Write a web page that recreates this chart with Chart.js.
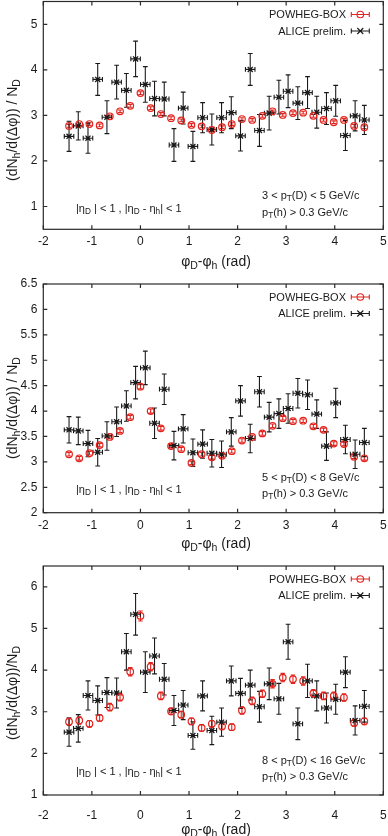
<!DOCTYPE html>
<html>
<head>
<meta charset="utf-8">
<script src="https://cdn.jsdelivr.net/npm/chart.js@4.4.1/dist/chart.umd.min.js"></script>
<style>
  html, body { margin: 0; padding: 0; background: #fff; }
  #page { position: relative; width: 388px; height: 836px; overflow: hidden;
          font-family: "Liberation Sans", Arial, sans-serif; color: #1a1a1a; }
  canvas { position: absolute; left: 0; }
  .txt { position: absolute; white-space: nowrap; line-height: 1; font-size: 11px; transform: translateY(-50%); }
  .leg { text-align: right; }
  .xt { font-size: 14px; transform: translate(-50%, -50%); }
  .yt { font-size: 14px; transform: translate(-50%, -50%) rotate(-90deg); }
  sub { font-size: 75%; vertical-align: -0.3em; line-height: 0; }
</style>
</head>
<body>
<div id="page">
  <canvas id="c1" width="388" height="278" style="top:0"></canvas>
  <canvas id="c2" width="388" height="278" style="top:278px"></canvas>
  <canvas id="c3" width="388" height="280" style="top:556px"></canvas>

  <!-- panel 1 -->
  <div class="txt leg" style="right:42px;top:14px">POWHEG-BOX</div>
  <div class="txt leg" style="right:42px;top:31px">ALICE prelim.</div>
  <div class="txt" style="left:76px;top:208px">|η<sub>D</sub> | &lt; 1 , |η<sub>D</sub> - η<sub>h</sub>| &lt; 1</div>
  <div class="txt" style="left:262px;top:195px">3 &lt; p<sub>T</sub>(D) &lt; 5 GeV/c</div>
  <div class="txt" style="left:262px;top:212px">p<sub>T</sub>(h) &gt; 0.3 GeV/c</div>
  <div class="txt xt" style="left:216px;top:261px">φ<sub>D</sub>-φ<sub>h</sub> (rad)</div>
  <div class="txt yt" style="left:12px;top:130px">(dN<sub>h</sub>/d(Δφ)) / N<sub>D</sub></div>

  <!-- panel 2 -->
  <div class="txt leg" style="right:42px;top:297px">POWHEG-BOX</div>
  <div class="txt leg" style="right:42px;top:313px">ALICE prelim.</div>
  <div class="txt" style="left:76px;top:489px">|η<sub>D</sub> | &lt; 1 , |η<sub>D</sub> - η<sub>h</sub>| &lt; 1</div>
  <div class="txt" style="left:262px;top:477px">5 &lt; p<sub>T</sub>(D) &lt; 8 GeV/c</div>
  <div class="txt" style="left:262px;top:493px">p<sub>T</sub>(h) &gt; 0.3 GeV/c</div>
  <div class="txt xt" style="left:216px;top:543px">φ<sub>D</sub>-φ<sub>h</sub> (rad)</div>
  <div class="txt yt" style="left:12px;top:408px">(dN<sub>h</sub>/d(Δφ)) / N<sub>D</sub></div>

  <!-- panel 3 -->
  <div class="txt leg" style="right:42px;top:579px">POWHEG-BOX</div>
  <div class="txt leg" style="right:42px;top:595px">ALICE prelim.</div>
  <div class="txt" style="left:76px;top:771px">|η<sub>D</sub> | &lt; 1 , |η<sub>D</sub> - η<sub>h</sub>| &lt; 1</div>
  <div class="txt" style="left:262px;top:760px">8 &lt; p<sub>T</sub>(D) &lt; 16 GeV/c</div>
  <div class="txt" style="left:262px;top:776px">p<sub>T</sub>(h) &gt; 0.3 GeV/c</div>
  <div class="txt xt" style="left:216px;top:829px">φ<sub>D</sub>-φ<sub>h</sub> (rad)</div>
  <div class="txt yt" style="left:12px;top:693px">(dN<sub>h</sub>/d(Δφ))/N<sub>D</sub></div>
</div>

<script>
  // ---- data ----
  // bin centres, rad
  const aliceX = [-1.47, -1.28, -1.08, -0.88, -0.69, -0.49, -0.29, -0.10, 0.10, 0.29, 0.49, 0.69, 0.88, 1.08, 1.28, 1.47,
                  1.67, 1.87, 2.06, 2.26, 2.45, 2.65, 2.85, 3.04, 3.24, 3.44, 3.63, 3.83, 4.02, 4.22, 4.42, 4.61];
  const aliceHalfBin = 0.098;
  const powhegX = [-1.47, -1.26, -1.05, -0.84, -0.63, -0.42, -0.21, 0.00, 0.21, 0.42, 0.63, 0.84, 1.05, 1.26, 1.47,
                   1.68, 1.88, 2.09, 2.30, 2.51, 2.72, 2.93, 3.14, 3.35, 3.56, 3.77, 3.98, 4.19, 4.40, 4.61];

  const xTicks = [-2, -1, 0, 1, 2, 3, 4, 5];

  // panel 1: 3 < pT(D) < 5 GeV/c
  const alice1 = [2.54, 2.77, 2.50, 3.79, 2.96, 3.73, 3.55, 4.24, 3.68, 3.37, 3.36, 2.35, 3.16, 2.32, 2.95, 2.69,
                  2.95, 3.06, 2.55, 4.01, 2.67, 3.05, 3.40, 3.53, 3.27, 3.50, 3.07, 3.15, 3.32, 2.56, 2.99, 2.90];
  const alice1Err = [0.33, 0.31, 0.33, 0.35, 0.36, 0.37, 0.37, 0.39, 0.39, 0.38, 0.37, 0.36, 0.35, 0.33, 0.33, 0.34,
                     0.33, 0.35, 0.33, 0.35, 0.35, 0.37, 0.37, 0.36, 0.36, 0.35, 0.35, 0.35, 0.34, 0.33, 0.33, 0.32];
  const powheg1 = [2.77, 2.81, 2.81, 2.78, 2.98, 3.09, 3.21, 3.49, 3.16, 3.03, 2.94, 2.89, 2.79, 2.76, 2.68,
                   2.74, 2.81, 2.92, 2.90, 2.99, 3.09, 3.01, 3.05, 3.06, 2.99, 2.90, 2.85, 2.90, 2.77, 2.74];
  const powheg1Err = [0.03, 0.03, 0.03, 0.03, 0.03, 0.03, 0.03, 0.03, 0.03, 0.03, 0.03, 0.03, 0.03, 0.03, 0.03,
                      0.03, 0.03, 0.03, 0.03, 0.03, 0.03, 0.03, 0.03, 0.03, 0.03, 0.03, 0.03, 0.03, 0.03, 0.03];
  const yTicks1 = [1, 2, 3, 4, 5];

  // panel 2: 5 < pT(D) < 8 GeV/c
  const alice2 = [3.63, 3.61, 3.36, 3.19, 3.51, 3.79, 4.10, 4.56, 4.85, 3.76, 4.43, 3.32, 3.65, 3.18, 3.35, 3.17,
                  3.15, 3.59, 4.20, 3.46, 4.38, 3.88, 3.95, 4.05, 4.35, 4.32, 3.94, 3.31, 4.16, 3.44, 3.15, 3.38];
  const alice2Err = [0.26, 0.27, 0.26, 0.27, 0.28, 0.29, 0.30, 0.32, 0.33, 0.30, 0.30, 0.28, 0.28, 0.27, 0.28, 0.27,
                     0.26, 0.28, 0.30, 0.28, 0.30, 0.29, 0.29, 0.29, 0.29, 0.29, 0.28, 0.28, 0.29, 0.28, 0.28, 0.28];
  const powheg2 = [3.15, 3.07, 3.17, 3.33, 3.49, 3.61, 3.88, 4.48, 4.00, 3.66, 3.31, 3.25, 2.98, 3.15, 3.09,
                   3.12, 3.21, 3.42, 3.49, 3.56, 3.71, 3.86, 3.80, 3.81, 3.70, 3.63, 3.36, 3.35, 3.10, 3.07];
  const powheg2Err = [0.035, 0.035, 0.035, 0.035, 0.035, 0.035, 0.035, 0.04, 0.04, 0.035, 0.035, 0.035, 0.035, 0.035, 0.035,
                      0.035, 0.035, 0.035, 0.035, 0.035, 0.035, 0.035, 0.035, 0.035, 0.035, 0.035, 0.035, 0.035, 0.035, 0.035];
  const yTicks2 = [2, 2.5, 3, 3.5, 4, 4.5, 5, 5.5, 6, 6.5];

  // panel 3: 8 < pT(D) < 16 GeV/c
  const alice3 = [2.51, 2.60, 3.39, 3.27, 3.46, 3.45, 4.44, 5.34, 3.95, 4.34, 3.78, 3.03, 3.16, 2.43, 3.38, 2.55,
                  2.75, 3.74, 3.44, 3.64, 3.12, 3.67, 3.31, 4.68, 2.71, 3.74, 3.38, 3.09, 3.30, 3.95, 2.79, 3.13];
  const alice3Err = [0.34, 0.33, 0.35, 0.35, 0.36, 0.36, 0.44, 0.50, 0.49, 0.43, 0.38, 0.36, 0.35, 0.33, 0.36, 0.34,
                     0.34, 0.36, 0.36, 0.36, 0.37, 0.38, 0.37, 0.42, 0.38, 0.40, 0.36, 0.36, 0.36, 0.37, 0.35, 0.38];
  const powheg3 = [2.76, 2.79, 2.71, 2.85, 3.11, 3.35, 3.96, 5.30, 4.08, 3.38, 3.01, 2.93, 2.77, 2.61, 2.71,
                   2.65, 2.63, 3.03, 3.26, 3.43, 3.67, 3.82, 3.78, 3.74, 3.44, 3.38, 3.38, 3.34, 2.73, 2.77];
  const powheg3Err = [0.09, 0.09, 0.08, 0.08, 0.09, 0.09, 0.10, 0.12, 0.10, 0.09, 0.08, 0.08, 0.08, 0.08, 0.08,
                      0.08, 0.08, 0.09, 0.09, 0.09, 0.10, 0.10, 0.10, 0.10, 0.09, 0.09, 0.09, 0.09, 0.08, 0.08];
  const yTicks3 = [1, 2, 3, 4, 5, 6];

  const FONT = '"Liberation Sans", Arial, sans-serif';
  const INK = '#1a1a1a';
  const RED = '#e3231d';

  function toPoints(xs, ys, errs, xerr) {
    return xs.map(function (x, i) {
      return { x: x, y: ys[i], ye: errs[i], xe: xerr || 0 };
    });
  }

  // gnuplot-style frame with inward ticks on all four sides
  const framePlugin = {
    id: 'frame',
    afterDraw(chart) {
      const { ctx, chartArea: a, scales } = chart;
      const t = 4;
      ctx.save();
      ctx.strokeStyle = '#2a2a2a';
      ctx.lineWidth = 1.2;
      ctx.strokeRect(a.left, a.top, a.right - a.left, a.bottom - a.top);
      ctx.beginPath();
      scales.x.ticks.forEach(function (tk) {
        const px = scales.x.getPixelForValue(tk.value);
        ctx.moveTo(px, a.bottom); ctx.lineTo(px, a.bottom - t);
        ctx.moveTo(px, a.top); ctx.lineTo(px, a.top + t);
      });
      scales.y.ticks.forEach(function (tk) {
        const py = scales.y.getPixelForValue(tk.value);
        ctx.moveTo(a.left, py); ctx.lineTo(a.left + t, py);
        ctx.moveTo(a.right, py); ctx.lineTo(a.right - t, py);
      });
      ctx.stroke();
      ctx.restore();
    }
  };

  function drawBar(ctx, x0, y0, x1, y1) {
    ctx.moveTo(x0, y0); ctx.lineTo(x1, y1);
  }

  // error bars + ALICE centre square
  const errorBarPlugin = {
    id: 'errorBars',
    beforeDatasetsDraw(chart) {
      const { ctx, chartArea: a } = chart;
      const xs = chart.scales.x, ys = chart.scales.y;
      ctx.save();
      ctx.beginPath();
      ctx.rect(a.left, a.top, a.right - a.left, a.bottom - a.top);
      ctx.clip();
      chart.data.datasets.forEach(function (ds) {
        const cap = ds.capSize;
        ctx.strokeStyle = ds.borderColor;
        ctx.lineWidth = ds.barWidth;
        ctx.beginPath();
        ds.data.forEach(function (p) {
          const px = xs.getPixelForValue(p.x);
          const py = ys.getPixelForValue(p.y);
          const yTop = ys.getPixelForValue(p.y + p.ye);
          const yBot = ys.getPixelForValue(p.y - p.ye);
          drawBar(ctx, px, yTop, px, yBot);
          drawBar(ctx, px - cap, yTop, px + cap, yTop);
          drawBar(ctx, px - cap, yBot, px + cap, yBot);
          if (p.xe) {
            const xl = xs.getPixelForValue(p.x - p.xe);
            const xr = xs.getPixelForValue(p.x + p.xe);
            drawBar(ctx, xl, py, xr, py);
            drawBar(ctx, xl, py - cap, xl, py + cap);
            drawBar(ctx, xr, py - cap, xr, py + cap);
          }
        });
        ctx.stroke();
      });
      ctx.restore();
    },
    afterDatasetsDraw(chart) {
      const ctx = chart.ctx;
      const xs = chart.scales.x, ys = chart.scales.y;
      const ds = chart.data.datasets[1];
      ctx.save();
      ctx.fillStyle = INK;
      ds.data.forEach(function (p) {
        const px = xs.getPixelForValue(p.x), py = ys.getPixelForValue(p.y);
        ctx.fillRect(px - 1.6, py - 1.6, 3.2, 3.2);
      });
      ctx.restore();
    }
  };

  // legend samples (text is HTML, next to them)
  const legendMarks = {
    id: 'legendMarks',
    afterDraw(chart) {
      const { ctx, chartArea: a } = chart;
      const x0 = a.right - 32, x1 = a.right - 14, xm = a.right - 23;
      const rows = [a.top + 13, a.top + 29.5];
      ctx.save();
      ctx.lineWidth = 1.1;
      // POWHEG
      ctx.strokeStyle = RED;
      ctx.beginPath();
      ctx.moveTo(x0, rows[0]); ctx.lineTo(x1, rows[0]);
      ctx.moveTo(x0, rows[0] - 2.5); ctx.lineTo(x0, rows[0] + 2.5);
      ctx.moveTo(x1, rows[0] - 2.5); ctx.lineTo(x1, rows[0] + 2.5);
      ctx.stroke();
      ctx.beginPath();
      ctx.arc(xm, rows[0], 3.3, 0, Math.PI * 2);
      ctx.stroke();
      // ALICE
      ctx.strokeStyle = INK;
      ctx.beginPath();
      ctx.moveTo(x0, rows[1]); ctx.lineTo(x1, rows[1]);
      ctx.moveTo(x0, rows[1] - 2.5); ctx.lineTo(x0, rows[1] + 2.5);
      ctx.moveTo(x1, rows[1] - 2.5); ctx.lineTo(x1, rows[1] + 2.5);
      ctx.moveTo(xm - 3, rows[1] - 3); ctx.lineTo(xm + 3, rows[1] + 3);
      ctx.moveTo(xm - 3, rows[1] + 3); ctx.lineTo(xm + 3, rows[1] - 3);
      ctx.stroke();
      ctx.restore();
    }
  };

  function makePanel(id, p) {
    const tickFont = { family: FONT, size: 12, lineHeight: 1 };
    return new Chart(document.getElementById(id), {
      type: 'scatter',
      data: {
        datasets: [
          {
            label: 'POWHEG-BOX',
            data: toPoints(powhegX, p.powheg, p.powhegErr),
            pointStyle: 'circle',
            pointRadius: 3.3,
            borderColor: RED,
            backgroundColor: 'rgba(0,0,0,0)',
            borderWidth: 1.2,
            capSize: 2.2,
            barWidth: 1.1
          },
          {
            label: 'ALICE prelim.',
            data: toPoints(aliceX, p.alice, p.aliceErr, aliceHalfBin),
            pointStyle: 'crossRot',
            pointRadius: 3.6,
            borderColor: INK,
            backgroundColor: INK,
            borderWidth: 1.3,
            capSize: 2.4,
            barWidth: 1.1
          }
        ]
      },
      options: {
        responsive: false,
        animation: false,
        events: [],
        layout: { autoPadding: false, padding: { top: p.padTop, right: 4.7, left: 0, bottom: 0 } },
        plugins: { legend: { display: false }, tooltip: { enabled: false } },
        scales: {
          x: {
            type: 'linear', min: -2, max: 5,
            afterBuildTicks: function (s) { s.ticks = xTicks.map(function (v) { return { value: v }; }); },
            afterFit: function (s) { s.height = p.xAxisH; s.paddingLeft = 0; s.paddingRight = 0; },
            grid: { display: false, drawTicks: false },
            border: { display: false },
            ticks: { padding: p.xPad, color: INK, font: tickFont, maxRotation: 0,
                     callback: function (v) { return String(v); } }
          },
          y: {
            type: 'linear', min: p.yMin, max: p.yMax,
            afterBuildTicks: function (s) { s.ticks = p.yTicks.map(function (v) { return { value: v }; }); },
            afterFit: function (s) { s.width = 43.3; s.paddingTop = 0; s.paddingBottom = 0; },
            grid: { display: false, drawTicks: false },
            border: { display: false },
            ticks: { padding: 6, color: INK, font: tickFont,
                     callback: function (v) { return String(v); } }
          }
        }
      },
      plugins: [framePlugin, errorBarPlugin, legendMarks]
    });
  }

  makePanel('c1', { alice: alice1, aliceErr: alice1Err, powheg: powheg1, powhegErr: powheg1Err,
                    yMin: 0.5, yMax: 5.5, yTicks: yTicks1, padTop: 1.5, xAxisH: 48.7, xPad: 6 });
  makePanel('c2', { alice: alice2, aliceErr: alice2Err, powheg: powheg2, powhegErr: powheg2Err,
                    yMin: 2, yMax: 6.5, yTicks: yTicks2, padTop: 6, xAxisH: 43.3, xPad: 7 });
  makePanel('c3', { alice: alice3, aliceErr: alice3Err, powheg: powheg3, powhegErr: powheg3Err,
                    yMin: 1, yMax: 6.5, yTicks: yTicks3, padTop: 10, xAxisH: 41, xPad: 15 });
</script>
</body>
</html>
